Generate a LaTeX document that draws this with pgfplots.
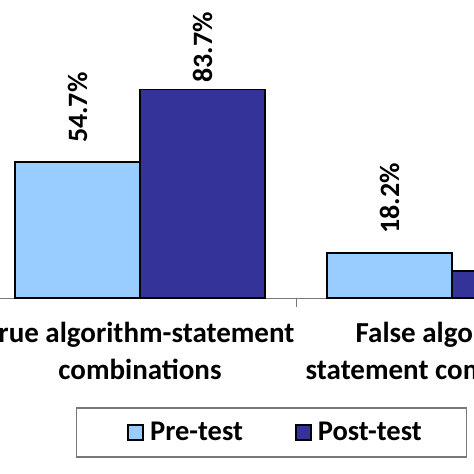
\documentclass[border=0pt]{standalone}
\usepackage{fontspec}
\setmainfont{Carlito}
\usepackage{pgfplots}
\pgfplotsset{compat=1.18}

\definecolor{pretest}{RGB}{153,204,255}
\definecolor{posttest}{RGB}{51,51,153}
\definecolor{axisgray}{RGB}{120,120,120}

\begin{document}
\begin{tikzpicture}
\useasboundingbox (0,0) rectangle (474pt,474pt);
\clip (0,0) rectangle (474pt,474pt);
\begin{axis}[
    at={(-16pt,176pt)},
    anchor=south west,
    scale only axis,
    width=624pt,
    height=249pt,
    xmin=-0.5, xmax=1.5,
    ymin=0, ymax=100,
    clip=false,
    /pgf/number format/assume math mode=true,
    axis x line=bottom,
    axis y line=none,
    x axis line style={-, draw=axisgray, line width=0.8pt},
    ybar=0pt,
    bar width=125pt,
    xtick={-0.5,0.5,1.5},
    xticklabels={},
    major tick length=9pt,
    tick align=outside,
    x tick style={draw=axisgray, line width=0.8pt},
    extra x ticks={0,1},
    extra x tick labels={{True algorithm-statement\\combinations},{False algorithm-\\statement combinations}},
    extra x tick style={major tick length=0pt,
        tick label style={align=center, font=\fontsize{29}{37}\selectfont\bfseries, yshift=-21pt}},
    nodes near coords={\pgfmathprintnumber[fixed,fixed zerofill,precision=1,assume math mode=true]{\pgfplotspointmeta}\%},
    every node near coord/.append style={rotate=90, anchor=west, inner xsep=18pt,
        font=\fontsize{28}{34}\selectfont\bfseries, text=black},
    legend style={at={(0.4607,-0.540)}, anchor=center, draw=axisgray, line width=1.2pt,
        legend columns=2, inner xsep=43pt, inner ysep=12.5pt,
        font=\fontsize{28.5}{34}\selectfont\bfseries,
        /tikz/every odd column/.append style={column sep=4pt},
        /tikz/every even column/.append style={column sep=42pt}},
    legend image code/.code={\path (-8pt,0pt);
        \draw[#1, draw=black, line width=2pt] (0pt,-7.5pt) rectangle (15pt,7.5pt);},
]
\addplot[fill=pretest, draw=black, line width=1.8pt] coordinates {(0,54.7) (1,18.2)};
\addlegendentry{Pre-test}
\addplot[fill=posttest, draw=black, line width=1.8pt,
    every node near coord/.append style={inner xsep=6pt}] coordinates {(0,83.7) (1,10.8)};
\addlegendentry{Post-test}
\end{axis}
\end{tikzpicture}
\end{document}
